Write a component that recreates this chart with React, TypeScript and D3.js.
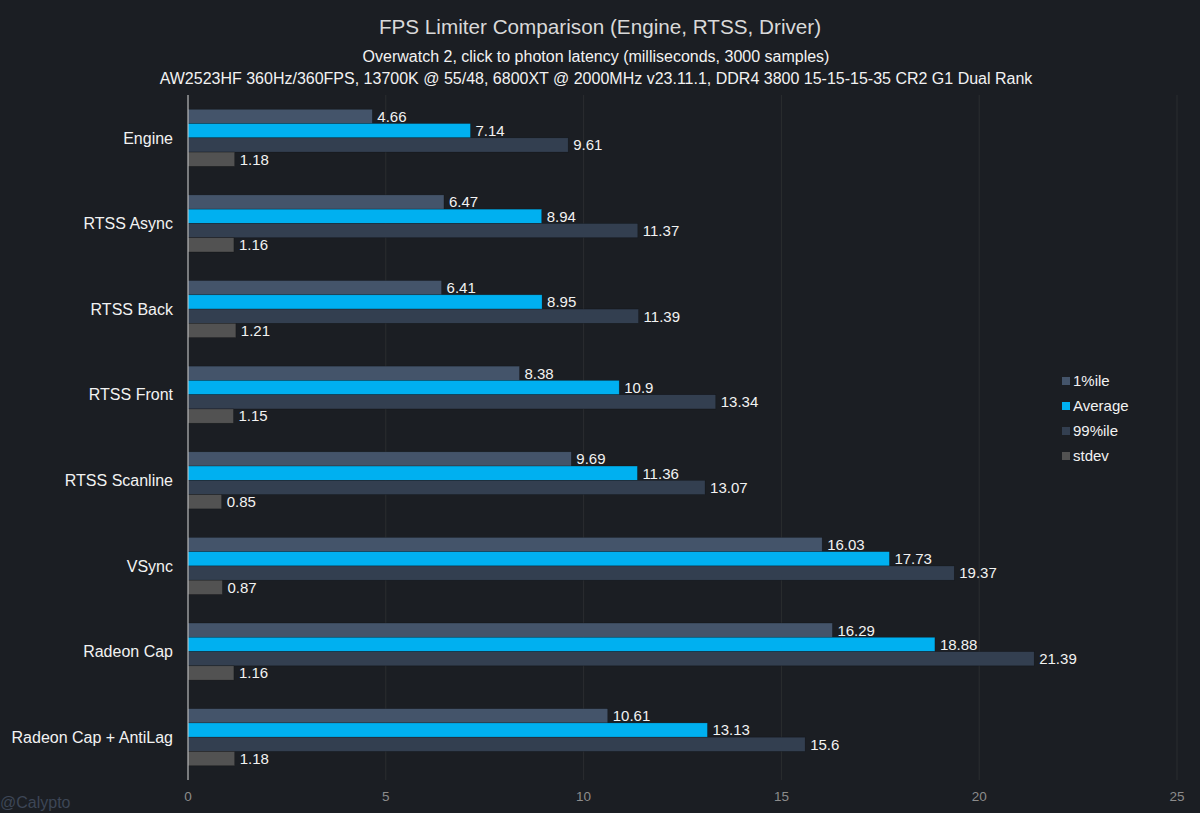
import React, { useEffect, useRef } from "react";
import * as d3 from "d3";

// Data
const categories = [
  "Engine",
  "RTSS Async",
  "RTSS Back",
  "RTSS Front",
  "RTSS Scanline",
  "VSync",
  "Radeon Cap",
  "Radeon Cap + AntiLag",
];
const seriesNames = ["1%ile", "Average", "99%ile", "stdev"];
const pct1 = [4.66, 6.47, 6.41, 8.38, 9.69, 16.03, 16.29, 10.61];
const average = [7.14, 8.94, 8.95, 10.9, 11.36, 17.73, 18.88, 13.13];
const pct99 = [9.61, 11.37, 11.39, 13.34, 13.07, 19.37, 21.39, 15.6];
const stdev = [1.18, 1.16, 1.21, 1.15, 0.85, 0.87, 1.16, 1.18];
const xTicks = [0, 5, 10, 15, 20, 25];

const colors = ["#44546a", "#00b0f0", "#333f50", "#525252"];

const App = () => {
  const svgRef = useRef<SVGSVGElement>(null);

  useEffect(() => {
    const W = 1200;
    const H = 813;
    const margin = { top: 95, right: 23, bottom: 33, left: 188 };
    const width = W - margin.left - margin.right;
    const height = H - margin.top - margin.bottom;
    const font = "'Liberation Sans', Arial, sans-serif";

    const root = d3.select(svgRef.current);
    root.selectAll("*").remove();
    root.attr("width", W).attr("height", H).style("font-family", font);

    root.append("rect").attr("width", W).attr("height", H).attr("fill", "#1b1e23");

    // Titles
    root
      .append("text")
      .attr("x", 600)
      .attr("y", 34)
      .attr("text-anchor", "middle")
      .attr("fill", "#d9d9d9")
      .style("font-size", "20.7px")
      .text("FPS Limiter Comparison (Engine, RTSS, Driver)");
    root
      .append("text")
      .attr("x", 596)
      .attr("y", 62)
      .attr("text-anchor", "middle")
      .attr("fill", "#f2f2f2")
      .style("font-size", "16px")
      .text("Overwatch 2, click to photon latency (milliseconds, 3000 samples)");
    root
      .append("text")
      .attr("x", 596)
      .attr("y", 84)
      .attr("text-anchor", "middle")
      .attr("fill", "#f2f2f2")
      .style("font-size", "16px")
      .text(
        "AW2523HF 360Hz/360FPS, 13700K @ 55/48, 6800XT @ 2000MHz v23.11.1, DDR4 3800 15-15-15-35 CR2 G1 Dual Rank"
      );

    const svg = root
      .append("g")
      .attr("transform", `translate(${margin.left},${margin.top})`);

    const x = d3.scaleLinear().domain([0, 25]).range([0, width]);
    const y0 = d3.scaleBand().domain(categories).range([0, height]).paddingInner(0).paddingOuter(0);
    const y1 = d3
      .scaleBand()
      .domain(seriesNames)
      .range([0, y0.bandwidth()])
      .paddingOuter(1)
      .paddingInner(0);

    // Gridlines
    svg
      .selectAll(".grid")
      .data(xTicks.filter((t) => t > 0))
      .enter()
      .append("line")
      .attr("x1", (d) => x(d))
      .attr("x2", (d) => x(d))
      .attr("y1", 0)
      .attr("y2", height)
      .attr("stroke", "#2b2d30")
      .attr("stroke-width", 1);

    const series = [pct1, average, pct99, stdev];
    const rows = categories.map((c, i) => ({
      cat: c,
      vals: seriesNames.map((s, j) => ({ key: s, value: series[j][i], color: colors[j] })),
    }));

    const groups = svg
      .selectAll(".group")
      .data(rows)
      .enter()
      .append("g")
      .attr("transform", (d) => `translate(0,${y0(d.cat)})`);

    groups
      .selectAll("rect")
      .data((d) => d.vals)
      .enter()
      .append("rect")
      .attr("x", 0)
      .attr("y", (d) => y1(d.key)!)
      .attr("width", (d) => x(d.value))
      .attr("height", y1.bandwidth())
      .attr("fill", (d) => d.color)
      .attr("stroke", "rgba(0,0,0,0.35)")
      .attr("stroke-width", 0.6);

    groups
      .selectAll(".lbl")
      .data((d) => d.vals)
      .enter()
      .append("text")
      .attr("x", (d) => x(d.value) + 5)
      .attr("y", (d) => y1(d.key)! + y1.bandwidth() / 2)
      .attr("dy", "0.36em")
      .attr("fill", "#f2f2f2")
      .style("font-size", "15px")
      .text((d) => String(d.value));

    // Category labels
    svg
      .selectAll(".cat")
      .data(categories)
      .enter()
      .append("text")
      .attr("x", -15)
      .attr("y", (d) => y0(d)! + y0.bandwidth() / 2)
      .attr("dy", "0.36em")
      .attr("text-anchor", "end")
      .attr("fill", "#f2f2f2")
      .style("font-size", "16px")
      .text((d) => d);

    // Zero axis line
    svg
      .append("line")
      .attr("x1", 0)
      .attr("x2", 0)
      .attr("y1", 0)
      .attr("y2", height)
      .attr("stroke", "#d9d9d9")
      .attr("stroke-width", 1);

    // X tick labels
    svg
      .selectAll(".tick")
      .data(xTicks)
      .enter()
      .append("text")
      .attr("x", (d) => x(d))
      .attr("y", height + 21)
      .attr("text-anchor", "middle")
      .attr("fill", "#8c8c8c")
      .style("font-size", "13.5px")
      .text((d) => d);

    // Legend
    const legend = root
      .append("g")
      .attr("transform", "translate(1062,381)");
    seriesNames.forEach((s, i) => {
      const g = legend.append("g").attr("transform", `translate(0,${i * 25})`);
      g.append("rect").attr("x", 0).attr("y", -4).attr("width", 8).attr("height", 8).attr("fill", colors[i]);
      g.append("text")
        .attr("x", 11)
        .attr("y", 0)
        .attr("dy", "0.36em")
        .attr("fill", "#f2f2f2")
        .style("font-size", "15px")
        .text(s);
    });

    // Watermark
    root
      .append("text")
      .attr("x", 0)
      .attr("y", 808)
      .attr("fill", "#3d4656")
      .style("font-size", "16px")
      .text("@Calypto");
  }, []);

  return (
    <div style={{ position: "absolute", left: 0, top: 0 }}>
      <svg ref={svgRef}></svg>
    </div>
  );
};

export default App;
